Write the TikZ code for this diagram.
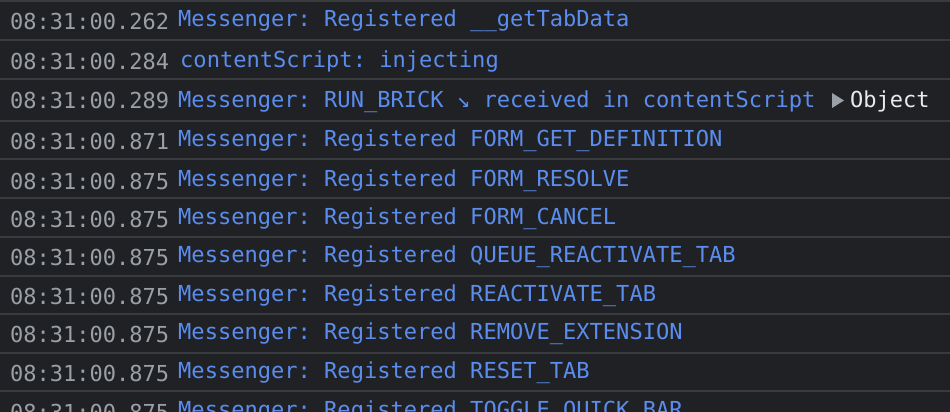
\documentclass[tikz,border=0pt]{standalone}
\usepackage{fontspec}
\setmonofont{DejaVu Sans Mono}
\definecolor{bg}{HTML}{202124}
\definecolor{sep}{HTML}{3A3B3E}
\definecolor{ts}{HTML}{9AA0A6}
\definecolor{msg}{HTML}{5B8DEF}
\definecolor{obj}{HTML}{E8EAED}
\begin{document}
\begin{tikzpicture}[x=1pt,y=-1pt,
  tstxt/.style={anchor=west,inner sep=0pt,text=ts,font=\ttfamily\fontsize{22}{24}\selectfont},
  mtxt/.style={anchor=west,inner sep=0pt,text=msg,font=\ttfamily\fontsize{22.05}{24}\selectfont},
  otxt/.style={anchor=west,inner sep=0pt,text=obj,font=\ttfamily\fontsize{22}{24}\selectfont},
  sepline/.style={draw=sep,line width=2pt}]
\useasboundingbox (0,0) rectangle (950,412);
\clip (0,0) rectangle (950,412);
\fill[bg] (0,0) rectangle (950,412);
\foreach \y in {1,40,79,121,159,198,237,276,314,353,391} {\draw[sepline] (0,\y) -- (950,\y);}
\node[tstxt] (t1) at (10,21) {08:31:00.262};
\node[mtxt] (m1) at (178,21) {Messenger: Registered \_\_getTabData};
\node[tstxt] (t2) at (10,61) {08:31:00.284};
\node[mtxt] (m2) at (180,61) {contentScript: injecting};
\node[tstxt] (t3) at (10,100) {08:31:00.289};
\node[mtxt] (m3) at (178,102) {Messenger: RUN\_BRICK ↘ received in contentScript};
\fill[ts] (832,93) -- (844,100.5) -- (832,108) -- cycle;
\node[otxt] (o3) at (850,101) {Object};
\node[tstxt] (t4) at (10,141) {08:31:00.871};
\node[mtxt] (m4) at (178,141) {Messenger: Registered FORM\_GET\_DEFINITION};
\node[tstxt] (t5) at (10,181) {08:31:00.875};
\node[mtxt] (m5) at (178,181) {Messenger: Registered FORM\_RESOLVE};
\node[tstxt] (t6) at (10,219) {08:31:00.875};
\node[mtxt] (m6) at (178,219) {Messenger: Registered FORM\_CANCEL};
\node[tstxt] (t7) at (10,257) {08:31:00.875};
\node[mtxt] (m7) at (178,257) {Messenger: Registered QUEUE\_REACTIVATE\_TAB};
\node[tstxt] (t8) at (10,296) {08:31:00.875};
\node[mtxt] (m8) at (178,296) {Messenger: Registered REACTIVATE\_TAB};
\node[tstxt] (t9) at (10,334) {08:31:00.875};
\node[mtxt] (m9) at (178,334) {Messenger: Registered REMOVE\_EXTENSION};
\node[tstxt] (t10) at (10,373) {08:31:00.875};
\node[mtxt] (m10) at (178,373) {Messenger: Registered RESET\_TAB};
\node[tstxt] (t11) at (10,412) {08:31:00.875};
\node[mtxt] (m11) at (178,412) {Messenger: Registered TOGGLE\_QUICK\_BAR};
\end{tikzpicture}
\end{document}
